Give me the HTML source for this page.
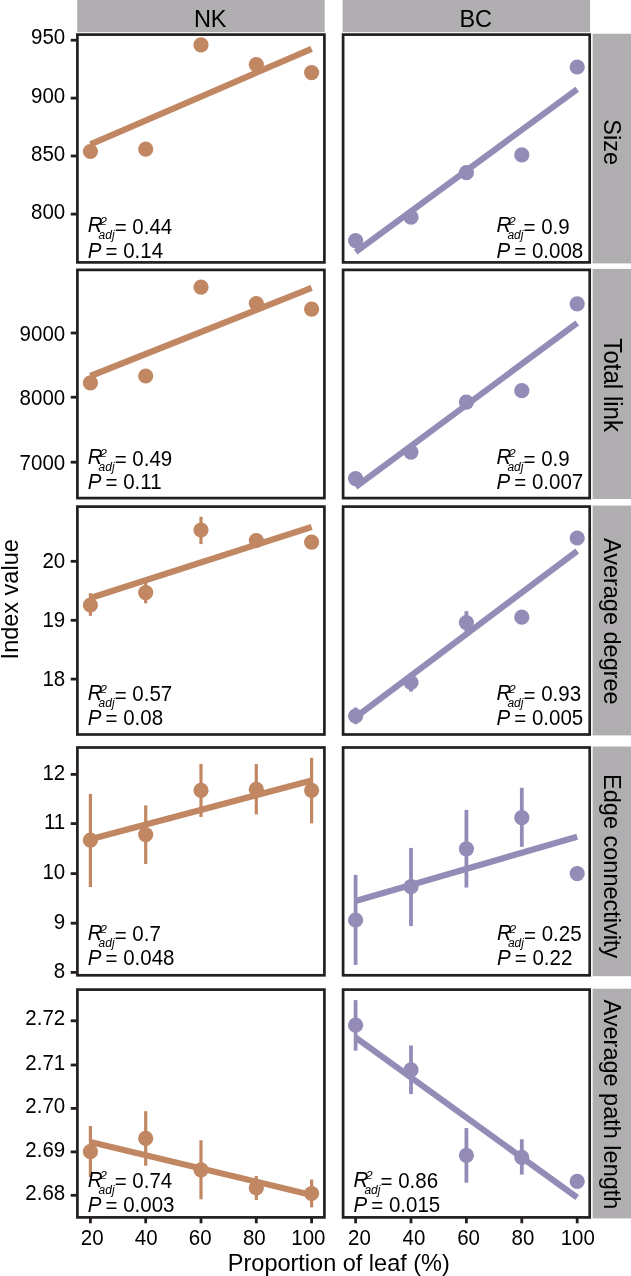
<!DOCTYPE html><html><head><meta charset="utf-8"><title>Index value vs proportion of leaf</title>
<style>html,body{margin:0;padding:0;background:#fff;width:631px;height:1276px;overflow:hidden}svg{display:block}text{font-family:"Liberation Sans", Arial, Helvetica, sans-serif;fill:#000}</style></head><body>
<svg width="631" height="1276" viewBox="0 0 631 1276">
<rect width="631" height="1276" fill="#fff"/>
<rect x="77.2" y="0" width="247.5" height="32.2" fill="#B0AEB1"/>
<rect x="342.6" y="0" width="247.5" height="32.2" fill="#B0AEB1"/>
<text transform="translate(210.20,27.00) scale(1,1.040)" font-size="23.5" text-anchor="middle">NK</text>
<text transform="translate(475.70,27.00) scale(1,1.040)" font-size="23.5" text-anchor="middle">BC</text>
<rect x="592.6" y="33.7" width="40" height="229.7" fill="#B0AEB1"/>
<text transform="translate(604,142.20) rotate(90) scale(1,1.040)" font-size="23.5" text-anchor="middle">Size</text>
<rect x="592.6" y="268.9" width="40" height="230.1" fill="#B0AEB1"/>
<text transform="translate(604,385.20) rotate(90) scale(1,1.040)" font-size="24.1" text-anchor="middle">Total link</text>
<rect x="592.6" y="505.6" width="40" height="229.8" fill="#B0AEB1"/>
<text transform="translate(604,621.30) rotate(90) scale(1,1.040)" font-size="23.5" text-anchor="middle">Average degree</text>
<rect x="592.6" y="746.5" width="40" height="229.7" fill="#B0AEB1"/>
<text transform="translate(604,866.20) rotate(90) scale(1,1.040)" font-size="23.5" text-anchor="middle">Edge connectivity</text>
<rect x="592.6" y="988.7" width="40" height="229.7" fill="#B0AEB1"/>
<text transform="translate(604,1104.45) rotate(90) scale(1,1.040)" font-size="23.5" text-anchor="middle">Average path length</text>
<g><circle cx="90.4" cy="151.5" r="7.6" fill="#C18762"/><circle cx="145.7" cy="149.1" r="7.6" fill="#C18762"/><circle cx="201.0" cy="44.9" r="7.6" fill="#C18762"/><circle cx="256.3" cy="64.6" r="7.6" fill="#C18762"/><circle cx="311.6" cy="72.6" r="7.6" fill="#C18762"/><line x1="90.4" y1="144.3" x2="311.6" y2="48.8" stroke="#C18762" stroke-width="6.2"/></g>
<text transform="translate(87.66,232.30) scale(1,1.040)" font-size="20.5" font-style="italic">R</text>
<text transform="translate(100.30,224.80) scale(1,0.840)" font-size="12" font-style="italic">2</text>
<text transform="translate(98.60,239.20) scale(1,1.000)" font-size="12" font-style="italic">adj</text>
<text transform="translate(114.70,234.80) scale(1,1.040)" font-size="20.5">=</text>
<text transform="translate(132.37,233.50) scale(1,1.040)" font-size="20.5">0.44</text>
<text transform="translate(87.66,257.60) scale(1,1.040)" font-size="20.5" font-style="italic">P</text>
<text transform="translate(105.50,258.80) scale(1,1.040)" font-size="20.5">=</text>
<text transform="translate(123.17,257.60) scale(1,1.040)" font-size="20.5">0.14</text>
<rect x="77.4" y="34.6" width="247.0" height="227.8" fill="none" stroke="#231F20" stroke-width="2.7"/>
<g><circle cx="355.6" cy="240.6" r="7.6" fill="#948CB7"/><circle cx="411.0" cy="217.2" r="7.6" fill="#948CB7"/><circle cx="466.4" cy="172.7" r="7.6" fill="#948CB7"/><circle cx="521.8" cy="154.9" r="7.6" fill="#948CB7"/><circle cx="577.2" cy="67.0" r="7.6" fill="#948CB7"/><line x1="355.6" y1="251.9" x2="577.2" y2="89.2" stroke="#948CB7" stroke-width="6.2"/></g>
<text transform="translate(496.46,232.30) scale(1,1.040)" font-size="20.5" font-style="italic">R</text>
<text transform="translate(509.10,224.80) scale(1,0.840)" font-size="12" font-style="italic">2</text>
<text transform="translate(507.40,239.20) scale(1,1.000)" font-size="12" font-style="italic">adj</text>
<text transform="translate(523.50,234.80) scale(1,1.040)" font-size="20.5">=</text>
<text transform="translate(541.17,233.50) scale(1,1.040)" font-size="20.5">0.9</text>
<text transform="translate(496.46,257.60) scale(1,1.040)" font-size="20.5" font-style="italic">P</text>
<text transform="translate(514.30,258.80) scale(1,1.040)" font-size="20.5">=</text>
<text transform="translate(531.97,257.60) scale(1,1.040)" font-size="20.5">0.008</text>
<rect x="343.1" y="34.6" width="246.6" height="227.8" fill="none" stroke="#231F20" stroke-width="2.7"/>
<g><circle cx="90.4" cy="382.9" r="7.6" fill="#C18762"/><circle cx="145.7" cy="376.0" r="7.6" fill="#C18762"/><circle cx="201.0" cy="287.2" r="7.6" fill="#C18762"/><circle cx="256.3" cy="303.5" r="7.6" fill="#C18762"/><circle cx="311.6" cy="309.1" r="7.6" fill="#C18762"/><line x1="90.4" y1="376.0" x2="311.6" y2="287.9" stroke="#C18762" stroke-width="6.2"/></g>
<text transform="translate(87.66,464.40) scale(1,1.040)" font-size="20.5" font-style="italic">R</text>
<text transform="translate(100.30,456.90) scale(1,0.840)" font-size="12" font-style="italic">2</text>
<text transform="translate(98.60,471.30) scale(1,1.000)" font-size="12" font-style="italic">adj</text>
<text transform="translate(114.70,466.90) scale(1,1.040)" font-size="20.5">=</text>
<text transform="translate(132.37,465.60) scale(1,1.040)" font-size="20.5">0.49</text>
<text transform="translate(87.66,489.20) scale(1,1.040)" font-size="20.5" font-style="italic">P</text>
<text transform="translate(105.50,490.40) scale(1,1.040)" font-size="20.5">=</text>
<text transform="translate(123.17,489.20) scale(1,1.040)" font-size="20.5">0.11</text>
<rect x="77.4" y="269.9" width="247.0" height="228.2" fill="none" stroke="#231F20" stroke-width="2.7"/>
<g><circle cx="355.6" cy="478.6" r="7.6" fill="#948CB7"/><circle cx="411.0" cy="452.1" r="7.6" fill="#948CB7"/><circle cx="466.4" cy="402.1" r="7.6" fill="#948CB7"/><circle cx="521.8" cy="390.7" r="7.6" fill="#948CB7"/><circle cx="577.2" cy="303.8" r="7.6" fill="#948CB7"/><line x1="355.6" y1="487.0" x2="577.2" y2="323.0" stroke="#948CB7" stroke-width="6.2"/></g>
<text transform="translate(496.46,464.40) scale(1,1.040)" font-size="20.5" font-style="italic">R</text>
<text transform="translate(509.10,456.90) scale(1,0.840)" font-size="12" font-style="italic">2</text>
<text transform="translate(507.40,471.30) scale(1,1.000)" font-size="12" font-style="italic">adj</text>
<text transform="translate(523.50,466.90) scale(1,1.040)" font-size="20.5">=</text>
<text transform="translate(541.17,465.60) scale(1,1.040)" font-size="20.5">0.9</text>
<text transform="translate(496.46,489.20) scale(1,1.040)" font-size="20.5" font-style="italic">P</text>
<text transform="translate(514.30,490.40) scale(1,1.040)" font-size="20.5">=</text>
<text transform="translate(531.97,489.20) scale(1,1.040)" font-size="20.5">0.007</text>
<rect x="343.1" y="269.9" width="246.6" height="228.2" fill="none" stroke="#231F20" stroke-width="2.7"/>
<g><line x1="90.4" y1="593.2" x2="90.4" y2="615.8" stroke="#C18762" stroke-width="3.2"/><line x1="145.7" y1="582.0" x2="145.7" y2="603.3" stroke="#C18762" stroke-width="3.2"/><line x1="201.0" y1="516.8" x2="201.0" y2="544.1" stroke="#C18762" stroke-width="3.2"/><circle cx="90.4" cy="605.0" r="7.6" fill="#C18762"/><circle cx="145.7" cy="592.6" r="7.6" fill="#C18762"/><circle cx="201.0" cy="530.0" r="7.6" fill="#C18762"/><circle cx="256.3" cy="540.5" r="7.6" fill="#C18762"/><circle cx="311.6" cy="542.1" r="7.6" fill="#C18762"/><line x1="90.4" y1="598.0" x2="311.6" y2="527.0" stroke="#C18762" stroke-width="6.2"/></g>
<text transform="translate(87.66,700.10) scale(1,1.040)" font-size="20.5" font-style="italic">R</text>
<text transform="translate(100.30,692.60) scale(1,0.840)" font-size="12" font-style="italic">2</text>
<text transform="translate(98.60,707.00) scale(1,1.000)" font-size="12" font-style="italic">adj</text>
<text transform="translate(114.70,702.60) scale(1,1.040)" font-size="20.5">=</text>
<text transform="translate(132.37,701.30) scale(1,1.040)" font-size="20.5">0.57</text>
<text transform="translate(87.66,725.20) scale(1,1.040)" font-size="20.5" font-style="italic">P</text>
<text transform="translate(105.50,726.40) scale(1,1.040)" font-size="20.5">=</text>
<text transform="translate(123.17,725.20) scale(1,1.040)" font-size="20.5">0.08</text>
<rect x="77.4" y="506.6" width="247.0" height="227.9" fill="none" stroke="#231F20" stroke-width="2.7"/>
<g><line x1="355.6" y1="707.5" x2="355.6" y2="724.2" stroke="#948CB7" stroke-width="3.8"/><line x1="411.0" y1="673.4" x2="411.0" y2="691.6" stroke="#948CB7" stroke-width="3.8"/><line x1="466.4" y1="611.2" x2="466.4" y2="634.0" stroke="#948CB7" stroke-width="3.8"/><circle cx="355.6" cy="716.0" r="7.6" fill="#948CB7"/><circle cx="411.0" cy="682.5" r="7.6" fill="#948CB7"/><circle cx="466.4" cy="622.6" r="7.6" fill="#948CB7"/><circle cx="521.8" cy="617.2" r="7.6" fill="#948CB7"/><circle cx="577.2" cy="538.0" r="7.6" fill="#948CB7"/><line x1="355.6" y1="717.2" x2="577.2" y2="551.1" stroke="#948CB7" stroke-width="6.2"/></g>
<text transform="translate(496.46,700.10) scale(1,1.040)" font-size="20.5" font-style="italic">R</text>
<text transform="translate(509.10,692.60) scale(1,0.840)" font-size="12" font-style="italic">2</text>
<text transform="translate(507.40,707.00) scale(1,1.000)" font-size="12" font-style="italic">adj</text>
<text transform="translate(523.50,702.60) scale(1,1.040)" font-size="20.5">=</text>
<text transform="translate(541.17,701.30) scale(1,1.040)" font-size="20.5">0.93</text>
<text transform="translate(496.46,725.20) scale(1,1.040)" font-size="20.5" font-style="italic">P</text>
<text transform="translate(514.30,726.40) scale(1,1.040)" font-size="20.5">=</text>
<text transform="translate(531.97,725.20) scale(1,1.040)" font-size="20.5">0.005</text>
<rect x="343.1" y="506.6" width="246.6" height="227.9" fill="none" stroke="#231F20" stroke-width="2.7"/>
<g><line x1="90.4" y1="793.9" x2="90.4" y2="887.0" stroke="#C18762" stroke-width="3.2"/><line x1="145.7" y1="805.4" x2="145.7" y2="864.0" stroke="#C18762" stroke-width="3.2"/><line x1="201.0" y1="763.9" x2="201.0" y2="817.0" stroke="#C18762" stroke-width="3.2"/><line x1="256.3" y1="764.1" x2="256.3" y2="814.4" stroke="#C18762" stroke-width="3.2"/><line x1="311.6" y1="757.8" x2="311.6" y2="823.4" stroke="#C18762" stroke-width="3.2"/><circle cx="90.4" cy="840.2" r="7.6" fill="#C18762"/><circle cx="145.7" cy="834.6" r="7.6" fill="#C18762"/><circle cx="201.0" cy="790.4" r="7.6" fill="#C18762"/><circle cx="256.3" cy="789.3" r="7.6" fill="#C18762"/><circle cx="311.6" cy="790.4" r="7.6" fill="#C18762"/><line x1="90.4" y1="839.3" x2="311.6" y2="780.5" stroke="#C18762" stroke-width="6.2"/></g>
<text transform="translate(87.66,940.10) scale(1,1.040)" font-size="20.5" font-style="italic">R</text>
<text transform="translate(100.30,932.60) scale(1,0.840)" font-size="12" font-style="italic">2</text>
<text transform="translate(98.60,947.00) scale(1,1.000)" font-size="12" font-style="italic">adj</text>
<text transform="translate(114.70,942.60) scale(1,1.040)" font-size="20.5">=</text>
<text transform="translate(132.37,941.30) scale(1,1.040)" font-size="20.5">0.7</text>
<text transform="translate(87.66,965.20) scale(1,1.040)" font-size="20.5" font-style="italic">P</text>
<text transform="translate(105.50,966.40) scale(1,1.040)" font-size="20.5">=</text>
<text transform="translate(123.17,965.20) scale(1,1.040)" font-size="20.5">0.048</text>
<rect x="77.4" y="747.5" width="247.0" height="227.8" fill="none" stroke="#231F20" stroke-width="2.7"/>
<g><line x1="355.6" y1="874.9" x2="355.6" y2="964.9" stroke="#948CB7" stroke-width="3.8"/><line x1="411.0" y1="847.9" x2="411.0" y2="926.0" stroke="#948CB7" stroke-width="3.8"/><line x1="466.4" y1="809.9" x2="466.4" y2="887.6" stroke="#948CB7" stroke-width="3.8"/><line x1="521.8" y1="787.8" x2="521.8" y2="846.8" stroke="#948CB7" stroke-width="3.8"/><circle cx="355.6" cy="920.0" r="7.6" fill="#948CB7"/><circle cx="411.0" cy="886.7" r="7.6" fill="#948CB7"/><circle cx="466.4" cy="848.8" r="7.6" fill="#948CB7"/><circle cx="521.8" cy="817.7" r="7.6" fill="#948CB7"/><circle cx="577.2" cy="873.6" r="7.6" fill="#948CB7"/><line x1="355.6" y1="901.0" x2="577.2" y2="836.8" stroke="#948CB7" stroke-width="6.2"/></g>
<text transform="translate(496.96,940.10) scale(1,1.040)" font-size="20.5" font-style="italic">R</text>
<text transform="translate(509.60,932.60) scale(1,0.840)" font-size="12" font-style="italic">2</text>
<text transform="translate(507.90,947.00) scale(1,1.000)" font-size="12" font-style="italic">adj</text>
<text transform="translate(524.00,942.60) scale(1,1.040)" font-size="20.5">=</text>
<text transform="translate(541.67,941.30) scale(1,1.040)" font-size="20.5">0.25</text>
<text transform="translate(496.96,965.20) scale(1,1.040)" font-size="20.5" font-style="italic">P</text>
<text transform="translate(514.80,966.40) scale(1,1.040)" font-size="20.5">=</text>
<text transform="translate(532.47,965.20) scale(1,1.040)" font-size="20.5">0.22</text>
<rect x="343.1" y="747.5" width="246.6" height="227.8" fill="none" stroke="#231F20" stroke-width="2.7"/>
<g><line x1="90.4" y1="1126.0" x2="90.4" y2="1177.0" stroke="#C18762" stroke-width="3.2"/><line x1="145.7" y1="1111.2" x2="145.7" y2="1165.7" stroke="#C18762" stroke-width="3.2"/><line x1="201.0" y1="1140.3" x2="201.0" y2="1199.3" stroke="#C18762" stroke-width="3.2"/><line x1="256.3" y1="1175.9" x2="256.3" y2="1200.1" stroke="#C18762" stroke-width="3.2"/><line x1="311.6" y1="1179.5" x2="311.6" y2="1207.4" stroke="#C18762" stroke-width="3.2"/><circle cx="90.4" cy="1151.7" r="7.6" fill="#C18762"/><circle cx="145.7" cy="1138.4" r="7.6" fill="#C18762"/><circle cx="201.0" cy="1169.8" r="7.6" fill="#C18762"/><circle cx="256.3" cy="1187.8" r="7.6" fill="#C18762"/><circle cx="311.6" cy="1193.5" r="7.6" fill="#C18762"/><line x1="90.4" y1="1142.0" x2="311.6" y2="1194.9" stroke="#C18762" stroke-width="6.2"/></g>
<text transform="translate(87.66,1186.80) scale(1,1.040)" font-size="20.5" font-style="italic">R</text>
<text transform="translate(100.30,1179.30) scale(1,0.840)" font-size="12" font-style="italic">2</text>
<text transform="translate(98.60,1193.70) scale(1,1.000)" font-size="12" font-style="italic">adj</text>
<text transform="translate(114.70,1189.30) scale(1,1.040)" font-size="20.5">=</text>
<text transform="translate(132.37,1188.00) scale(1,1.040)" font-size="20.5">0.74</text>
<text transform="translate(87.66,1211.60) scale(1,1.040)" font-size="20.5" font-style="italic">P</text>
<text transform="translate(105.50,1212.80) scale(1,1.040)" font-size="20.5">=</text>
<text transform="translate(123.17,1211.60) scale(1,1.040)" font-size="20.5">0.003</text>
<rect x="77.4" y="989.6" width="247.0" height="227.8" fill="none" stroke="#231F20" stroke-width="2.7"/>
<g><line x1="355.6" y1="1000.1" x2="355.6" y2="1050.6" stroke="#948CB7" stroke-width="3.8"/><line x1="411.0" y1="1045.5" x2="411.0" y2="1094.0" stroke="#948CB7" stroke-width="3.8"/><line x1="466.4" y1="1128.1" x2="466.4" y2="1182.7" stroke="#948CB7" stroke-width="3.8"/><line x1="521.8" y1="1139.3" x2="521.8" y2="1174.6" stroke="#948CB7" stroke-width="3.8"/><circle cx="355.6" cy="1025.2" r="7.6" fill="#948CB7"/><circle cx="411.0" cy="1069.9" r="7.6" fill="#948CB7"/><circle cx="466.4" cy="1155.3" r="7.6" fill="#948CB7"/><circle cx="521.8" cy="1157.4" r="7.6" fill="#948CB7"/><circle cx="577.2" cy="1181.4" r="7.6" fill="#948CB7"/><line x1="355.6" y1="1037.5" x2="577.2" y2="1197.6" stroke="#948CB7" stroke-width="6.2"/></g>
<text transform="translate(353.46,1186.80) scale(1,1.040)" font-size="20.5" font-style="italic">R</text>
<text transform="translate(366.10,1179.30) scale(1,0.840)" font-size="12" font-style="italic">2</text>
<text transform="translate(364.40,1193.70) scale(1,1.000)" font-size="12" font-style="italic">adj</text>
<text transform="translate(380.50,1189.30) scale(1,1.040)" font-size="20.5">=</text>
<text transform="translate(398.17,1188.00) scale(1,1.040)" font-size="20.5">0.86</text>
<text transform="translate(353.46,1211.60) scale(1,1.040)" font-size="20.5" font-style="italic">P</text>
<text transform="translate(371.30,1212.80) scale(1,1.040)" font-size="20.5">=</text>
<text transform="translate(388.97,1211.60) scale(1,1.040)" font-size="20.5">0.015</text>
<rect x="343.1" y="989.6" width="246.6" height="227.8" fill="none" stroke="#231F20" stroke-width="2.7"/>
<line x1="70.7" y1="40.2" x2="76.5" y2="40.2" stroke="#231F20" stroke-width="2.8"/>
<text transform="translate(65.20,44.40) scale(1,1.040)" font-size="20.5" text-anchor="end">950</text>
<line x1="70.7" y1="98.1" x2="76.5" y2="98.1" stroke="#231F20" stroke-width="2.8"/>
<text transform="translate(65.20,102.50) scale(1,1.040)" font-size="20.5" text-anchor="end">900</text>
<line x1="70.7" y1="156.0" x2="76.5" y2="156.0" stroke="#231F20" stroke-width="2.8"/>
<text transform="translate(65.20,160.50) scale(1,1.040)" font-size="20.5" text-anchor="end">850</text>
<line x1="70.7" y1="214.1" x2="76.5" y2="214.1" stroke="#231F20" stroke-width="2.8"/>
<text transform="translate(65.20,218.50) scale(1,1.040)" font-size="20.5" text-anchor="end">800</text>
<line x1="70.7" y1="333.0" x2="76.5" y2="333.0" stroke="#231F20" stroke-width="2.8"/>
<text transform="translate(65.20,340.65) scale(1,1.040)" font-size="20.5" text-anchor="end">9000</text>
<line x1="70.7" y1="397.2" x2="76.5" y2="397.2" stroke="#231F20" stroke-width="2.8"/>
<text transform="translate(65.20,405.00) scale(1,1.040)" font-size="20.5" text-anchor="end">8000</text>
<line x1="70.7" y1="462.2" x2="76.5" y2="462.2" stroke="#231F20" stroke-width="2.8"/>
<text transform="translate(65.20,469.80) scale(1,1.040)" font-size="20.5" text-anchor="end">7000</text>
<line x1="70.7" y1="561.3" x2="76.5" y2="561.3" stroke="#231F20" stroke-width="2.8"/>
<text transform="translate(65.20,568.10) scale(1,1.040)" font-size="20.5" text-anchor="end">20</text>
<line x1="70.7" y1="620.3" x2="76.5" y2="620.3" stroke="#231F20" stroke-width="2.8"/>
<text transform="translate(65.20,627.00) scale(1,1.040)" font-size="20.5" text-anchor="end">19</text>
<line x1="70.7" y1="679.1" x2="76.5" y2="679.1" stroke="#231F20" stroke-width="2.8"/>
<text transform="translate(65.20,685.50) scale(1,1.040)" font-size="20.5" text-anchor="end">18</text>
<line x1="70.7" y1="774.4" x2="76.5" y2="774.4" stroke="#231F20" stroke-width="2.8"/>
<text transform="translate(65.20,779.50) scale(1,1.040)" font-size="20.5" text-anchor="end">12</text>
<line x1="70.7" y1="823.6" x2="76.5" y2="823.6" stroke="#231F20" stroke-width="2.8"/>
<text transform="translate(65.20,828.80) scale(1,1.040)" font-size="20.5" text-anchor="end">11</text>
<line x1="70.7" y1="873.6" x2="76.5" y2="873.6" stroke="#231F20" stroke-width="2.8"/>
<text transform="translate(65.20,878.70) scale(1,1.040)" font-size="20.5" text-anchor="end">10</text>
<line x1="70.7" y1="923.2" x2="76.5" y2="923.2" stroke="#231F20" stroke-width="2.8"/>
<text transform="translate(65.20,928.50) scale(1,1.040)" font-size="20.5" text-anchor="end">9</text>
<line x1="70.7" y1="972.4" x2="76.5" y2="972.4" stroke="#231F20" stroke-width="2.8"/>
<text transform="translate(65.20,978.00) scale(1,1.040)" font-size="20.5" text-anchor="end">8</text>
<line x1="70.7" y1="1020.8" x2="76.5" y2="1020.8" stroke="#231F20" stroke-width="2.8"/>
<text transform="translate(65.20,1025.30) scale(1,1.040)" font-size="20.5" text-anchor="end">2.72</text>
<line x1="70.7" y1="1065.0" x2="76.5" y2="1065.0" stroke="#231F20" stroke-width="2.8"/>
<text transform="translate(65.20,1069.65) scale(1,1.040)" font-size="20.5" text-anchor="end">2.71</text>
<line x1="70.7" y1="1108.4" x2="76.5" y2="1108.4" stroke="#231F20" stroke-width="2.8"/>
<text transform="translate(65.20,1113.05) scale(1,1.040)" font-size="20.5" text-anchor="end">2.70</text>
<line x1="70.7" y1="1151.9" x2="76.5" y2="1151.9" stroke="#231F20" stroke-width="2.8"/>
<text transform="translate(65.20,1156.50) scale(1,1.040)" font-size="20.5" text-anchor="end">2.69</text>
<line x1="70.7" y1="1195.3" x2="76.5" y2="1195.3" stroke="#231F20" stroke-width="2.8"/>
<text transform="translate(65.20,1200.10) scale(1,1.040)" font-size="20.5" text-anchor="end">2.68</text>
<line x1="90.4" y1="1218" x2="90.4" y2="1223.3" stroke="#231F20" stroke-width="2.8"/>
<text transform="translate(92.25,1244.90) scale(1,1.040)" font-size="20.5" text-anchor="middle">20</text>
<line x1="145.7" y1="1218" x2="145.7" y2="1223.3" stroke="#231F20" stroke-width="2.8"/>
<text transform="translate(146.25,1244.90) scale(1,1.040)" font-size="20.5" text-anchor="middle">40</text>
<line x1="201.0" y1="1218" x2="201.0" y2="1223.3" stroke="#231F20" stroke-width="2.8"/>
<text transform="translate(200.20,1244.90) scale(1,1.040)" font-size="20.5" text-anchor="middle">60</text>
<line x1="256.3" y1="1218" x2="256.3" y2="1223.3" stroke="#231F20" stroke-width="2.8"/>
<text transform="translate(254.30,1244.90) scale(1,1.040)" font-size="20.5" text-anchor="middle">80</text>
<line x1="311.6" y1="1218" x2="311.6" y2="1223.3" stroke="#231F20" stroke-width="2.8"/>
<text transform="translate(308.40,1244.90) scale(1,1.040)" font-size="20.5" text-anchor="middle">100</text>
<line x1="355.6" y1="1218" x2="355.6" y2="1223.3" stroke="#231F20" stroke-width="2.8"/>
<text transform="translate(359.40,1244.90) scale(1,1.040)" font-size="20.5" text-anchor="middle">20</text>
<line x1="411.0" y1="1218" x2="411.0" y2="1223.3" stroke="#231F20" stroke-width="2.8"/>
<text transform="translate(413.90,1244.90) scale(1,1.040)" font-size="20.5" text-anchor="middle">40</text>
<line x1="466.4" y1="1218" x2="466.4" y2="1223.3" stroke="#231F20" stroke-width="2.8"/>
<text transform="translate(468.60,1244.90) scale(1,1.040)" font-size="20.5" text-anchor="middle">60</text>
<line x1="521.8" y1="1218" x2="521.8" y2="1223.3" stroke="#231F20" stroke-width="2.8"/>
<text transform="translate(523.00,1244.90) scale(1,1.040)" font-size="20.5" text-anchor="middle">80</text>
<line x1="577.2" y1="1218" x2="577.2" y2="1223.3" stroke="#231F20" stroke-width="2.8"/>
<text transform="translate(577.80,1244.90) scale(1,1.040)" font-size="20.5" text-anchor="middle">100</text>
<text transform="translate(227.82,1270.60) scale(1,1.040)" font-size="23.5">Proportion of leaf (%)</text>
<text transform="translate(17.6,599.3) rotate(-90) scale(1,1.040)" font-size="23.5" text-anchor="middle">Index value</text>
</svg></body></html>
